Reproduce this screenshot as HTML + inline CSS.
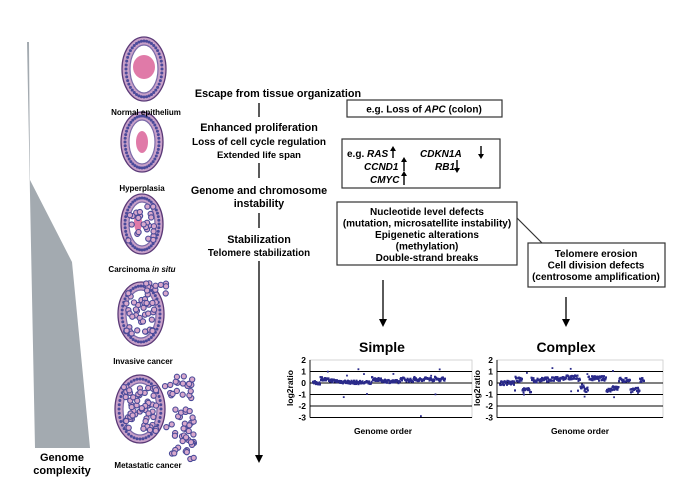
<!DOCTYPE html>
<html><head><meta charset="utf-8"><style>
body{margin:0;background:#fff}
svg{display:block;font-family:"Liberation Sans",Arial,sans-serif;font-weight:bold}
</style></head><body>
<svg id="s" width="685" height="502" viewBox="0 0 685 502" xmlns="http://www.w3.org/2000/svg">
<polygon points="27,42 29,42 30,180 72,262 90,448 35,448" fill="#a3aab0"/>
<text x="62" y="461" font-size="11" text-anchor="middle">Genome</text>
<text x="62" y="474" font-size="11" text-anchor="middle">complexity</text>

<g id="cells"></g>
<text x="146" y="115" font-size="8" text-anchor="middle">Normal epithelium</text>
<text x="142" y="191" font-size="8" text-anchor="middle">Hyperplasia</text>
<text x="142" y="272" font-size="8" text-anchor="middle">Carcinoma <tspan font-style="italic">in situ</tspan></text>
<text x="143" y="364" font-size="8" text-anchor="middle">Invasive cancer</text>
<text x="148" y="468" font-size="8" text-anchor="middle">Metastatic cancer</text>

<g font-size="10.8" text-anchor="middle">
<text x="278" y="97">Escape from tissue organization</text>
<text x="259" y="131">Enhanced proliferation</text>
<text x="259" y="145" font-size="10">Loss of cell cycle regulation</text>
<text x="259" y="158" font-size="9.5">Extended life span</text>
<text x="259" y="194">Genome and chromosome</text>
<text x="259" y="207">instability</text>
<text x="259" y="243">Stabilization</text>
<text x="259" y="256" font-size="9.8">Telomere stabilization</text>
</g>
<g stroke="#000" stroke-width="1.3">
<line x1="259" y1="103" x2="259" y2="117"/>
<line x1="259" y1="163" x2="259" y2="178"/>
<line x1="259" y1="213" x2="259" y2="228"/>
<line x1="259" y1="261" x2="259" y2="455"/>
</g>
<polygon points="255,455 263,455 259,463" fill="#000"/>

<g fill="none" stroke="#333" stroke-width="1.2">
<rect x="347" y="100" width="155" height="17"/>
<rect x="342" y="139" width="158" height="49"/>
<rect x="337" y="202" width="180" height="63"/>
<rect x="528" y="243" width="137" height="44"/>
<line x1="517" y1="218" x2="542" y2="243"/>
</g>
<text x="424" y="112.5" font-size="10" text-anchor="middle">e.g. Loss of <tspan font-style="italic">APC</tspan> (colon)</text>
<g font-size="10">
<text x="347" y="157">e.g. <tspan font-style="italic">RAS</tspan></text>
<text x="364" y="170" font-style="italic">CCND1</text>
<text x="370" y="183" font-style="italic">CMYC</text>
<text x="420" y="157" font-style="italic">CDKN1A</text>
<text x="435" y="170" font-style="italic">RB1</text>
</g>
<g stroke="#000" stroke-width="1.4">
<line x1="393" y1="149" x2="393" y2="158"/><line x1="404" y1="160" x2="404" y2="171"/><line x1="404" y1="174" x2="404" y2="185"/>
<line x1="481" y1="146" x2="481" y2="156"/><line x1="457" y1="160" x2="457" y2="170"/>
</g>
<g fill="#000">
<polygon points="390,151 396,151 393,146"/><polygon points="401,162 407,162 404,157"/><polygon points="401,176 407,176 404,171"/>
<polygon points="478,154 484,154 481,159"/><polygon points="454,168 460,168 457,173"/>
</g>
<g font-size="10" text-anchor="middle">
<text x="427" y="215">Nucleotide level defects</text>
<text x="427" y="226.5">(mutation, microsatellite instability)</text>
<text x="427" y="238">Epigenetic alterations</text>
<text x="427" y="249.5">(methylation)</text>
<text x="427" y="261">Double-strand breaks</text>
<text x="596" y="257">Telomere erosion</text>
<text x="596" y="268.5">Cell division defects</text>
<text x="596" y="280">(centrosome amplification)</text>
</g>
<g stroke="#000" stroke-width="1.3"><line x1="383" y1="280" x2="383" y2="320"/><line x1="566" y1="297" x2="566" y2="320"/></g>
<polygon points="379,319 387,319 383,327" fill="#000"/><polygon points="562,319 570,319 566,327" fill="#000"/>

<text x="382" y="352" font-size="14" text-anchor="middle">Simple</text>
<text x="566" y="352" font-size="14" text-anchor="middle">Complex</text>
<g id="charts"></g>
<text x="383" y="434" font-size="8.5" text-anchor="middle">Genome order</text>
<text x="580" y="434" font-size="8.5" text-anchor="middle">Genome order</text>
</svg>
<script>
var NS="http://www.w3.org/2000/svg";
function el(p,t,a){var e=document.createElementNS(NS,t);for(var k in a)e.setAttribute(k,a[k]);p.appendChild(e);return e;}
var seed=7;function r(){seed=(seed*16807)%2147483647;return seed/2147483647;}
var cg=document.getElementById("cells");
function c(x,y,rr){el(cg,"circle",{cx:x,cy:y,r:rr||2.6,fill:"#d8a8cc",stroke:"#4a4a98","stroke-width":1.1});}
function cell(cx,cy,rx,ry,lum,inv){
 el(cg,"ellipse",{cx:cx,cy:cy,rx:rx,ry:ry,fill:"#c8a0c8",stroke:"#5a3a78","stroke-width":1.3});
 for(var i=0;i<44;i++){var a=i/44*6.283;el(cg,"circle",{cx:cx+(rx-4)*Math.cos(a),cy:cy+(ry-4)*Math.sin(a),r:1.5,fill:"#4a4a9a"});}
 el(cg,"ellipse",{cx:cx,cy:cy,rx:rx-8,ry:ry-8,fill:"#fff",stroke:"#7a6aa8","stroke-width":1.2});
 if(lum)el(cg,"ellipse",{cx:cx+lum[0],cy:cy+lum[1],rx:lum[2],ry:lum[3],fill:"#e07aa8"});
 for(var j=0;j<inv;j++){c(cx+(r()-0.5)*rx*1.3,cy+(r()-0.5)*ry*1.3);}
}
cell(144,69,22,32,[0,-2,11,12],0);
cell(142,142,21,30,[0,0,6,11],0);
cell(142,224,21,30,[-4,-2,4,10],26);
cell(141,314,23,32,null,40);
cell(140,409,25,34,null,60);
for(var i=0;i<60;i++){c(165+r()*30,375+r()*85);}
for(var i=0;i<12;i++){c(145+r()*22,283+r()*12);}
var ch=document.getElementById("charts");
function chart(x0,x1,complex){
 var yz=383,s=11.5;
 el(ch,"rect",{x:x0,y:yz-2*s,width:x1-x0,height:5*s,fill:"#fff",stroke:"#ccc","stroke-width":0.8});
 for(var v=1;v>=-3;v--)el(ch,"line",{x1:x0,x2:x1,y1:yz-v*s,y2:yz-v*s,stroke:"#000","stroke-width":0.9});
 el(ch,"line",{x1:x0,x2:x0,y1:yz-2*s,y2:yz+3*s,stroke:"#000","stroke-width":0.9});
 for(var v=2;v>=-3;v--){var t=el(ch,"text",{x:x0-4,y:yz-v*s+3,"font-size":8.5,"text-anchor":"end"});t.textContent=v;}
 var t=el(ch,"text",{x:0,y:0,"font-size":8.5,"text-anchor":"middle",transform:"translate("+(x0-17)+","+(yz+5)+") rotate(-90)"});t.textContent="log2ratio";
 var end=x0+(x1-x0)*(complex?0.88:0.83),lev=0;
 for(var x=x0+2;x<end;x+=0.5){
  if(complex){if(r()<0.06)lev=(r()<0.5?0.35:-0.5)+(r()-0.5)*0.3;}
  else{lev=(r()<0.015)?0.4:lev*0.97;}
  var v=lev+(r()-0.5)*(complex?0.4:0.3);
  el(ch,"rect",{x:x,y:yz-v*s-1.2,width:2,height:2.2,fill:"#2a2a8a"});
 }
 for(var k=0;k<10;k++){var v=(r()<0.5?-1:1)*(0.6+r()*0.7);el(ch,"rect",{x:x0+r()*(end-x0),y:yz-v*s-1,width:1.8,height:1.8,fill:"#2a2a8a"});}
 if(!complex)el(ch,"rect",{x:x0+110,y:yz+2.8*s,width:1.8,height:1.8,fill:"#2a2a8a"});
}
chart(310,472,false);
chart(497,663,true);
</script>
</body></html>
